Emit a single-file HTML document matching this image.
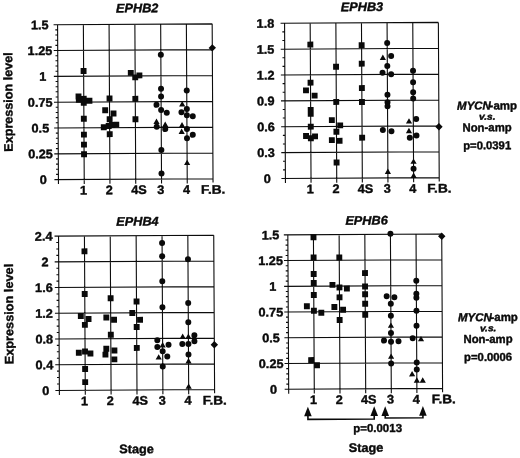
<!DOCTYPE html>
<html lang="en">
<head>
<meta charset="utf-8">
<title>EPHB expression by stage</title>
<style>
html,body{margin:0;padding:0;background:#fff;}
body{width:520px;height:458px;overflow:hidden;}
svg{display:block;}
</style>
</head>
<body>
<svg width="520" height="458" viewBox="0 0 520 458">
<rect width="520" height="458" fill="#fff"/>
<g transform="rotate(-0.315 260 229)">
<g stroke="#0c0c0c" stroke-width="1.1" fill="none">
<path d="M54.7 23.6H213.3M54.7 49.4H213.3M54.7 75.2H213.3M54.7 101.1H213.3M54.7 126.9H213.3M54.7 152.7H213.3M54.7 178.5H213.3M58.7 23.6V183M84.5 23.6V183M110.2 23.6V183M136 23.6V183M161.8 23.6V183M187.5 23.6V183M213.3 23.6V182.3M56.4 28.8H58.7M56.4 33.9H58.7M56.4 39.1H58.7M56.4 44.3H58.7M56.4 54.6H58.7M56.4 59.7H58.7M56.4 64.9H58.7M56.4 70.1H58.7M56.4 80.4H58.7M56.4 85.6H58.7M56.4 90.7H58.7M56.4 95.9H58.7M56.4 106.2H58.7M56.4 111.4H58.7M56.4 116.5H58.7M56.4 121.7H58.7M56.4 132H58.7M56.4 137.2H58.7M56.4 142.4H58.7M56.4 147.5H58.7M56.4 157.8H58.7M56.4 163H58.7M56.4 168.2H58.7M56.4 173.3H58.7"/>
<path d="M281.7 23.4H439.5M281.7 49.3H439.5M281.7 75.1H439.5M281.7 101H439.5M281.7 126.9H439.5M281.7 152.7H439.5M281.7 178.6H439.5M285.7 23.4V183.1M311.3 23.4V183.1M337 23.4V183.1M362.6 23.4V183.1M388.2 23.4V183.1M413.9 23.4V183.1M439.5 23.4V182.4M283.4 32H285.7M283.4 40.6H285.7M283.4 57.9H285.7M283.4 66.5H285.7M283.4 83.8H285.7M283.4 92.4H285.7M283.4 109.6H285.7M283.4 118.2H285.7M283.4 135.5H285.7M283.4 144.1H285.7M283.4 161.4H285.7M283.4 170H285.7"/>
<path d="M54.5 235H213.7M54.5 260.7H213.7M54.5 286.4H213.7M54.5 312.1H213.7M54.5 337.9H213.7M54.5 363.6H213.7M54.5 389.3H213.7M58.5 235V393.8M84.4 235V393.8M110.2 235V393.8M136.1 235V393.8M162 235V393.8M187.8 235V393.8M213.7 235V393.1M56.2 241.4H58.5M56.2 247.9H58.5M56.2 254.3H58.5M56.2 267.1H58.5M56.2 273.6H58.5M56.2 280H58.5M56.2 292.9H58.5M56.2 299.3H58.5M56.2 305.7H58.5M56.2 318.6H58.5M56.2 325H58.5M56.2 331.4H58.5M56.2 344.3H58.5M56.2 350.7H58.5M56.2 357.2H58.5M56.2 370H58.5M56.2 376.4H58.5M56.2 382.9H58.5"/>
<path d="M283.8 235H441.7M283.8 260.7H441.7M283.8 286.5H441.7M283.8 312.2H441.7M283.8 337.9H441.7M283.8 363.7H441.7M283.8 389.4H441.7M287.8 235V393.9M313.4 235V393.9M339.1 235V393.9M364.8 235V393.9M390.4 235V393.9M416 235V393.9M441.7 235V393.2M285.5 240.1H287.8M285.5 245.3H287.8M285.5 250.4H287.8M285.5 255.6H287.8M285.5 265.9H287.8M285.5 271H287.8M285.5 276.2H287.8M285.5 281.3H287.8M285.5 291.6H287.8M285.5 296.8H287.8M285.5 301.9H287.8M285.5 307.1H287.8M285.5 317.3H287.8M285.5 322.5H287.8M285.5 327.6H287.8M285.5 332.8H287.8M285.5 343.1H287.8M285.5 348.2H287.8M285.5 353.4H287.8M285.5 358.5H287.8M285.5 368.8H287.8M285.5 374H287.8M285.5 379.1H287.8M285.5 384.3H287.8"/>
</g>
<g fill="#0a0a0a">
<path d="M81.5 67.1h5.9v5.9h-5.9zM128.7 69.2h5.9v5.9h-5.9zM133.1 73.7h5.9v5.9h-5.9zM137.3 71.8h5.9v5.9h-5.9zM107.3 94.7h5.9v5.9h-5.9zM133.1 95.2h5.9v5.9h-5.9zM76.3 92.6h5.9v5.9h-5.9zM76.6 95.9h5.9v5.9h-5.9zM81.5 94.9h5.9v5.9h-5.9zM81.5 98.8h5.9v5.9h-5.9zM87.2 96.9h5.9v5.9h-5.9zM81.5 114.8h5.9v5.9h-5.9zM81.5 130.7h5.9v5.9h-5.9zM81.5 140.7h5.9v5.9h-5.9zM81.5 150.3h5.9v5.9h-5.9zM102.9 106.4h5.9v5.9h-5.9zM111.2 109.7h5.9v5.9h-5.9zM107.3 115.4h5.9v5.9h-5.9zM101.4 123.5h5.9v5.9h-5.9zM106.3 122.2h5.9v5.9h-5.9zM110.1 121.2h5.9v5.9h-5.9zM113.9 120.9h5.9v5.9h-5.9zM107.3 130.4h5.9v5.9h-5.9zM133.1 115.6h5.9v5.9h-5.9zM308.4 41.9h5.9v5.9h-5.9zM334 64.2h5.9v5.9h-5.9zM308.4 80h5.9v5.9h-5.9zM303.8 87.7h5.9v5.9h-5.9zM312.4 93h5.9v5.9h-5.9zM308.4 107.3h5.9v5.9h-5.9zM308.4 111.1h5.9v5.9h-5.9zM308.4 124h5.9v5.9h-5.9zM303.6 133.3h5.9v5.9h-5.9zM308.4 135.6h5.9v5.9h-5.9zM312.6 133.7h5.9v5.9h-5.9zM334 99.4h5.9v5.9h-5.9zM329.5 117.6h5.9v5.9h-5.9zM337.8 122.9h5.9v5.9h-5.9zM334 129.2h5.9v5.9h-5.9zM329.4 137.6h5.9v5.9h-5.9zM337.1 138.3h5.9v5.9h-5.9zM334 160h5.9v5.9h-5.9zM359.7 42.8h5.9v5.9h-5.9zM359.7 61.3h5.9v5.9h-5.9zM359.7 85.7h5.9v5.9h-5.9zM359.7 99.6h5.9v5.9h-5.9zM359.7 135.3h5.9v5.9h-5.9zM81.4 247.4h5.9v5.9h-5.9zM81.4 290.1h5.9v5.9h-5.9zM77.4 312.1h5.9v5.9h-5.9zM85.1 315.1h5.9v5.9h-5.9zM81.4 320.9h5.9v5.9h-5.9zM75.2 348.8h5.9v5.9h-5.9zM81.4 347.6h5.9v5.9h-5.9zM86.8 349.6h5.9v5.9h-5.9zM81.4 365.1h5.9v5.9h-5.9zM81.4 378.2h5.9v5.9h-5.9zM107.3 294.5h5.9v5.9h-5.9zM102.9 313.7h5.9v5.9h-5.9zM110.6 316h5.9v5.9h-5.9zM107.3 331h5.9v5.9h-5.9zM102.7 345h5.9v5.9h-5.9zM110.8 346.8h5.9v5.9h-5.9zM101.8 350.8h5.9v5.9h-5.9zM110.7 355.6h5.9v5.9h-5.9zM133.2 297.9h5.9v5.9h-5.9zM128.9 309.3h5.9v5.9h-5.9zM136.6 316.2h5.9v5.9h-5.9zM133.2 323.4h5.9v5.9h-5.9zM133.2 344.3h5.9v5.9h-5.9zM310.5 234.6h5.9v5.9h-5.9zM310.5 254.8h5.9v5.9h-5.9zM310.5 271.3h5.9v5.9h-5.9zM310.5 280.3h5.9v5.9h-5.9zM310.5 292.3h5.9v5.9h-5.9zM303.5 303.6h5.9v5.9h-5.9zM310.5 308.1h5.9v5.9h-5.9zM317.9 310.1h5.9v5.9h-5.9zM307.5 357.4h5.9v5.9h-5.9zM313.3 362.6h5.9v5.9h-5.9zM336.2 255h5.9v5.9h-5.9zM329.2 282.3h5.9v5.9h-5.9zM336.2 284.9h5.9v5.9h-5.9zM343.6 286.1h5.9v5.9h-5.9zM336.2 294.8h5.9v5.9h-5.9zM331 304.4h5.9v5.9h-5.9zM339.7 307.3h5.9v5.9h-5.9zM336.2 317.5h5.9v5.9h-5.9zM361.8 270.7h5.9v5.9h-5.9zM361.8 284.1h5.9v5.9h-5.9zM361.8 291.9h5.9v5.9h-5.9zM361.8 301.4h5.9v5.9h-5.9zM361.8 312.4h5.9v5.9h-5.9z"/>
<circle cx="161.8" cy="54.1" r="3.0"/>
<circle cx="161.8" cy="88.3" r="3.0"/>
<circle cx="161.8" cy="95.9" r="3.0"/>
<circle cx="157.2" cy="104.3" r="3.0"/>
<circle cx="161.8" cy="109.4" r="3.0"/>
<circle cx="167.4" cy="112.3" r="3.0"/>
<circle cx="157.3" cy="126.1" r="3.0"/>
<circle cx="165.8" cy="128.6" r="3.0"/>
<circle cx="161.8" cy="149.5" r="3.0"/>
<circle cx="161.8" cy="173" r="3.0"/>
<circle cx="187.5" cy="90.2" r="3.0"/>
<circle cx="187.5" cy="108.5" r="3.0"/>
<circle cx="182.1" cy="111.9" r="3.0"/>
<circle cx="187.5" cy="114.8" r="3.0"/>
<circle cx="193.4" cy="115.9" r="3.0"/>
<circle cx="187.5" cy="128.7" r="3.0"/>
<circle cx="193.3" cy="134.5" r="3.0"/>
<circle cx="187.5" cy="137.8" r="3.0"/>
<circle cx="388.2" cy="43.6" r="3.0"/>
<circle cx="392.1" cy="56.7" r="3.0"/>
<circle cx="388.2" cy="66.7" r="3.0"/>
<circle cx="383.4" cy="73.4" r="3.0"/>
<circle cx="392" cy="74.9" r="3.0"/>
<circle cx="388.2" cy="95.4" r="3.0"/>
<circle cx="388.2" cy="103" r="3.0"/>
<circle cx="388.2" cy="106.9" r="3.0"/>
<circle cx="383.4" cy="130.7" r="3.0"/>
<circle cx="392" cy="131.9" r="3.0"/>
<circle cx="413.9" cy="71.6" r="3.0"/>
<circle cx="413.9" cy="83.1" r="3.0"/>
<circle cx="413.9" cy="93.1" r="3.0"/>
<circle cx="413.9" cy="99.4" r="3.0"/>
<circle cx="416.8" cy="119.9" r="3.0"/>
<circle cx="417" cy="136.3" r="3.0"/>
<circle cx="410.3" cy="138.5" r="3.0"/>
<circle cx="413.9" cy="169.5" r="3.0"/>
<circle cx="162" cy="242.4" r="3.0"/>
<circle cx="162" cy="255.7" r="3.0"/>
<circle cx="162" cy="280.8" r="3.0"/>
<circle cx="162" cy="306.8" r="3.0"/>
<circle cx="156.7" cy="339.6" r="3.0"/>
<circle cx="167.9" cy="344.3" r="3.0"/>
<circle cx="156.7" cy="346.4" r="3.0"/>
<circle cx="162" cy="350.7" r="3.0"/>
<circle cx="166.6" cy="356" r="3.0"/>
<circle cx="162" cy="366" r="3.0"/>
<circle cx="187.8" cy="258.8" r="3.0"/>
<circle cx="187.8" cy="302.5" r="3.0"/>
<circle cx="187.8" cy="321.9" r="3.0"/>
<circle cx="193.8" cy="335" r="3.0"/>
<circle cx="181.7" cy="343.6" r="3.0"/>
<circle cx="187.8" cy="343.6" r="3.0"/>
<circle cx="193.8" cy="340.8" r="3.0"/>
<circle cx="187.8" cy="354.2" r="3.0"/>
<circle cx="390.4" cy="234.4" r="3.0"/>
<circle cx="386.3" cy="297" r="3.0"/>
<circle cx="394" cy="297.9" r="3.0"/>
<circle cx="390.4" cy="304.4" r="3.0"/>
<circle cx="390.4" cy="316.5" r="3.0"/>
<circle cx="390.4" cy="333.8" r="3.0"/>
<circle cx="383.4" cy="341.3" r="3.0"/>
<circle cx="390.4" cy="342.4" r="3.0"/>
<circle cx="397.9" cy="342" r="3.0"/>
<circle cx="390.4" cy="364.3" r="3.0"/>
<circle cx="416" cy="281.7" r="3.0"/>
<circle cx="416" cy="294.6" r="3.0"/>
<circle cx="416" cy="298.7" r="3.0"/>
<circle cx="416" cy="311.7" r="3.0"/>
<circle cx="416" cy="326.7" r="3.0"/>
<circle cx="412.1" cy="339.1" r="3.0"/>
<circle cx="416" cy="363.4" r="3.0"/>
<circle cx="416" cy="370.3" r="3.0"/>
<path d="M157.1 118L160.2 123.4L154 123.4zM165.8 121L168.9 126.4L162.7 126.4zM182.9 100.6L186 106L179.8 106zM182.6 121.6L185.7 127L179.5 127zM182.2 128.1L185.3 133.5L179.1 133.5zM187.5 159.3L190.6 164.7L184.4 164.7zM383.8 55.2L386.9 60.6L380.7 60.6zM388.2 169.2L391.3 174.6L385.1 174.6zM409.6 119L412.7 124.4L406.5 124.4zM409.5 128.6L412.6 134L406.4 134zM413.9 159.3L417 164.7L410.8 164.7zM413.9 173.4L417 178.8L410.8 178.8zM162 341.5L165.1 346.9L158.9 346.9zM158 353.6L161.1 359L154.9 359zM182.1 333.1L185.2 338.5L179 338.5zM187.8 333.1L190.9 338.5L184.7 338.5zM187.8 357.6L190.9 363L184.7 363zM187.8 383L190.9 388.4L184.7 388.4zM390.4 323.1L393.5 328.5L387.3 328.5zM390.4 354.1L393.5 359.5L387.3 359.5zM420.4 336.8L423.5 342.2L417.3 342.2zM411.3 371.8L414.4 377.2L408.2 377.2zM416 378.2L419.1 383.6L412.9 383.6zM421.9 378.2L425 383.6L418.8 383.6z"/>
<path d="M213.3 43.9L217 47.6L213.3 51.3L209.6 47.6zM439.5 124L443.2 127.7L439.5 131.4L435.8 127.7zM213.7 340.8L217.4 344.5L213.7 348.2L210 344.5zM441.7 233.5L445.4 237.2L441.7 240.9L438 237.2z"/>
<path d="M306.9 407L310.7 416.6L303.1 416.6z"/>
<path d="M373.2 407L377 416.6L369.4 416.6z"/>
<path d="M384.2 407L388 416.6L380.4 416.6z"/>
<path d="M421.9 407L425.7 416.6L418.1 416.6z"/>
</g>
<g fill="none" stroke="#0a0a0a" stroke-width="1.6">
<path d="M306.9 415.4V419.6H373.2V415.4"/>
<path d="M384.2 415.4V418.7H421.9V415.4"/>
</g>
<g font-family="'Liberation Sans', sans-serif" font-weight="bold" fill="#0a0a0a" stroke="#0a0a0a" stroke-width="0.4" stroke-linejoin="round">
<text transform="translate(138.4 11.6) scale(1.026 1)" font-size="12.4" text-anchor="middle" font-style="italic">EPHB2</text>
<text transform="translate(363.2 11.6) scale(1.026 1)" font-size="12.4" text-anchor="middle" font-style="italic">EPHB3</text>
<text transform="translate(137.5 224.9) scale(1.026 1)" font-size="12.4" text-anchor="middle" font-style="italic">EPHB4</text>
<text transform="translate(366.6 225.2) scale(1.026 1)" font-size="12.4" text-anchor="middle" font-style="italic">EPHB6</text>
<text transform="translate(40.9 28) scale(1.026 1)" font-size="12.4" text-anchor="middle">1.5</text>
<text transform="translate(40.9 53.8) scale(1.026 1)" font-size="12.4" text-anchor="middle">1.25</text>
<text transform="translate(43.5 79.6) scale(1.026 1)" font-size="12.4" text-anchor="middle">1</text>
<text transform="translate(40.9 105.5) scale(1.026 1)" font-size="12.4" text-anchor="middle">0.75</text>
<text transform="translate(40.9 131.3) scale(1.026 1)" font-size="12.4" text-anchor="middle">0.5</text>
<text transform="translate(40.9 157.1) scale(1.026 1)" font-size="12.4" text-anchor="middle">0.25</text>
<text transform="translate(43.5 182.9) scale(1.026 1)" font-size="12.4" text-anchor="middle">0</text>
<text transform="translate(266.5 27.8) scale(1.026 1)" font-size="12.4" text-anchor="middle">1.8</text>
<text transform="translate(266.5 53.7) scale(1.026 1)" font-size="12.4" text-anchor="middle">1.5</text>
<text transform="translate(266.5 79.5) scale(1.026 1)" font-size="12.4" text-anchor="middle">1.2</text>
<text transform="translate(266.5 105.4) scale(1.026 1)" font-size="12.4" text-anchor="middle">0.9</text>
<text transform="translate(266.5 131.3) scale(1.026 1)" font-size="12.4" text-anchor="middle">0.6</text>
<text transform="translate(266.5 157.1) scale(1.026 1)" font-size="12.4" text-anchor="middle">0.3</text>
<text transform="translate(267.5 183) scale(1.026 1)" font-size="12.4" text-anchor="middle">0</text>
<text transform="translate(43.6 239.4) scale(1.026 1)" font-size="12.4" text-anchor="middle">2.4</text>
<text transform="translate(44.9 265.1) scale(1.026 1)" font-size="12.4" text-anchor="middle">2</text>
<text transform="translate(43.6 290.8) scale(1.026 1)" font-size="12.4" text-anchor="middle">1.6</text>
<text transform="translate(43.6 316.6) scale(1.026 1)" font-size="12.4" text-anchor="middle">1.2</text>
<text transform="translate(43.6 342.3) scale(1.026 1)" font-size="12.4" text-anchor="middle">0.8</text>
<text transform="translate(43.6 368) scale(1.026 1)" font-size="12.4" text-anchor="middle">0.4</text>
<text transform="translate(44.9 393.7) scale(1.026 1)" font-size="12.4" text-anchor="middle">0</text>
<text transform="translate(270.4 239.4) scale(1.026 1)" font-size="12.4" text-anchor="middle">1.5</text>
<text transform="translate(270.4 265.1) scale(1.026 1)" font-size="12.4" text-anchor="middle">1.25</text>
<text transform="translate(272.5 290.9) scale(1.026 1)" font-size="12.4" text-anchor="middle">1</text>
<text transform="translate(270.4 316.6) scale(1.026 1)" font-size="12.4" text-anchor="middle">0.75</text>
<text transform="translate(270.4 342.3) scale(1.026 1)" font-size="12.4" text-anchor="middle">0.5</text>
<text transform="translate(270.4 368.1) scale(1.026 1)" font-size="12.4" text-anchor="middle">0.25</text>
<text transform="translate(272.5 393.8) scale(1.026 1)" font-size="12.4" text-anchor="middle">0</text>
<text transform="translate(83.7 193.4) scale(1.026 1)" font-size="12.4" text-anchor="middle">1</text>
<text transform="translate(109.4 193.4) scale(1.026 1)" font-size="12.4" text-anchor="middle">2</text>
<text transform="translate(139.1 193.4) scale(1.026 1)" font-size="12.4" text-anchor="middle">4S</text>
<text transform="translate(161 193.4) scale(1.026 1)" font-size="12.4" text-anchor="middle">3</text>
<text transform="translate(186.7 193.4) scale(1.026 1)" font-size="12.4" text-anchor="middle">4</text>
<text transform="translate(201.3 193.4) scale(1.1 1)" font-size="12.4" text-anchor="start">F.B.</text>
<text transform="translate(310.5 193.5) scale(1.026 1)" font-size="12.4" text-anchor="middle">1</text>
<text transform="translate(336.2 193.5) scale(1.026 1)" font-size="12.4" text-anchor="middle">2</text>
<text transform="translate(365.7 193.5) scale(1.026 1)" font-size="12.4" text-anchor="middle">4S</text>
<text transform="translate(387.4 193.5) scale(1.026 1)" font-size="12.4" text-anchor="middle">3</text>
<text transform="translate(413.1 193.5) scale(1.026 1)" font-size="12.4" text-anchor="middle">4</text>
<text transform="translate(427.5 193.5) scale(1.1 1)" font-size="12.4" text-anchor="start">F.B.</text>
<text transform="translate(83.6 404.2) scale(1.026 1)" font-size="12.4" text-anchor="middle">1</text>
<text transform="translate(109.4 404.2) scale(1.026 1)" font-size="12.4" text-anchor="middle">2</text>
<text transform="translate(139.2 404.2) scale(1.026 1)" font-size="12.4" text-anchor="middle">4S</text>
<text transform="translate(161.2 404.2) scale(1.026 1)" font-size="12.4" text-anchor="middle">3</text>
<text transform="translate(187 404.2) scale(1.026 1)" font-size="12.4" text-anchor="middle">4</text>
<text transform="translate(201.7 404.2) scale(1.1 1)" font-size="12.4" text-anchor="start">F.B.</text>
<text transform="translate(312.6 404.3) scale(1.026 1)" font-size="12.4" text-anchor="middle">1</text>
<text transform="translate(338.3 404.3) scale(1.026 1)" font-size="12.4" text-anchor="middle">2</text>
<text transform="translate(367.8 404.3) scale(1.026 1)" font-size="12.4" text-anchor="middle">4S</text>
<text transform="translate(389.6 404.3) scale(1.026 1)" font-size="12.4" text-anchor="middle">3</text>
<text transform="translate(415.2 404.3) scale(1.026 1)" font-size="12.4" text-anchor="middle">4</text>
<text transform="translate(430.7 404.3) scale(1.1 1)" font-size="12.4" text-anchor="start">F.B.</text>
<text transform="translate(13.1 100.6) rotate(-90)" font-size="12.4" text-anchor="middle" textLength="99.5" lengthAdjust="spacingAndGlyphs">Expression level</text>
<text transform="translate(12.7 312.7) rotate(-90)" font-size="12.4" text-anchor="middle" textLength="100.5" lengthAdjust="spacingAndGlyphs">Expression level</text>
<text transform="translate(135.4 452.5) scale(1.026 1)" font-size="12.4" text-anchor="middle">Stage</text>
<text transform="translate(364.8 452.5) scale(1.026 1)" font-size="12.4" text-anchor="middle">Stage</text>
<text transform="translate(376.5 432.7) scale(0.99 1)" font-size="11.6" text-anchor="middle">p=0.0013</text>
<text transform="translate(487.7 110.8) scale(0.99 1)" font-size="11.6" text-anchor="middle"><tspan font-style="italic">MYCN</tspan><tspan dx="-1.3">-amp</tspan></text>
<text transform="translate(487.9 121) scale(1.1 1)" font-size="9.3" text-anchor="middle" font-style="italic">v.s.</text>
<text transform="translate(487.6 132.6) scale(0.98 1)" font-size="11.6" text-anchor="middle">Non-amp</text>
<text transform="translate(487.6 150.6) scale(0.975 1)" font-size="11.6" text-anchor="middle">p=0.0391</text>
<text transform="translate(487.4 322.4) scale(0.99 1)" font-size="11.6" text-anchor="middle"><tspan font-style="italic">MYCN</tspan><tspan dx="-1.3">-amp</tspan></text>
<text transform="translate(487.6 332.6) scale(1.1 1)" font-size="9.3" text-anchor="middle" font-style="italic">v.s.</text>
<text transform="translate(487.4 344.2) scale(0.98 1)" font-size="11.6" text-anchor="middle">Non-amp</text>
<text transform="translate(487.4 362.2) scale(0.975 1)" font-size="11.6" text-anchor="middle">p=0.0006</text>
</g>
</g>
</svg>
</body>
</html>
